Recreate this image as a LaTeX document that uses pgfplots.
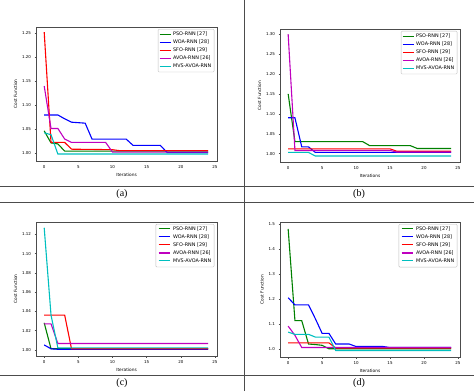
\documentclass[border=0pt]{standalone}
\usepackage{fontspec}
\setmainfont{Liberation Serif}
\newfontfamily\dv{DejaVu Sans}
\usepackage{pgfplots}
\pgfplotsset{compat=1.18}
\definecolor{colG}{HTML}{008000}
\definecolor{colB}{HTML}{0000FF}
\definecolor{colR}{HTML}{FF0000}
\definecolor{colM}{HTML}{BF00BF}
\definecolor{colC}{HTML}{00BFBF}
\newcommand\li[1]{\textcolor{#1}{\rule[1.3pt]{11pt}{1.2pt}}\hspace{3.5pt}}
\pgfplotsset{panel/.style={
  scale only axis,
  xmin=-1.2, xmax=25.3,
  xtick={0,5,...,25},
  tick align=outside, xtick pos=bottom, ytick pos=left,
  major tick length=1.5pt,
  tick style={draw=gray!60!black, line width=0.4pt},
  axis line style={draw=gray!60!black, line width=0.6pt},
  /pgf/number format/assume math mode=true,
  ticklabel style={font=\dv\fontsize{4}{4.5}\selectfont},
  label style={font=\dv\fontsize{4.3}{4.8}\selectfont},
  xlabel={Iterations}, ylabel={Cost Function},
  xlabel style={yshift=2.5pt},
  ylabel style={yshift=-2pt},
  xticklabel style={yshift=0.5pt},
  every axis plot/.append style={line width=1.1pt, mark=none},
  legend cell align=left,
  legend style={at={(0.985,0.985)}, anchor=north east, draw=gray!50, rounded corners=1pt,
     font=\dv\fontsize{4.9}{5.4}\selectfont, inner sep=0.8pt, row sep=-1.2pt},
  legend image code/.code={\draw[#1, line width=1.2pt] (0pt,0pt) -- (11pt,0pt);},
}, ruleleg/.style={legend image code/.code={}}}
\newcommand\legA{\legend{PSO-RNN [27],WOA-RNN [28],SFO-RNN [29],AVOA-RNN [26],MVS-AVOA-RNN}}
\newcommand\legB{\legend{\li{colG}PSO-RNN [27],\li{colB}WOA-RNN [28],\li{colR}SFO-RNN [29],\li{colM}AVOA-RNN [26],\li{colC}MVS-AVOA-RNN}}
\begin{document}
\begin{tikzpicture}[x=1pt,y=1pt]
\useasboundingbox (0,0) rectangle (474,391);
% (a)
\begin{axis}[panel, at={(36pt,230pt)}, anchor=south west, width=181pt, height=134pt,
  ymin=0.9845, ymax=1.2625, ytick={1.00,1.05,...,1.26},
  yticklabel style={/pgf/number format/.cd, fixed, fixed zerofill, precision=2}]
\addplot[draw=colG] coordinates {(0,1.047)(1,1.022)(2,1.020)(3,1.005)(24,1.005)};
\addplot[draw=colB] coordinates {(0,1.080)(2,1.080)(3,1.072)(4,1.065)(6,1.063)(7,1.030)(12,1.030)(13,1.017)(17,1.017)(18,1.002)(24,1.002)};
\addplot[draw=colR] coordinates {(0,1.252)(1,1.023)(3,1.023)(4,1.009)(10,1.008)(11,1.006)(24,1.006)};
\addplot[draw=colM] coordinates {(0,1.140)(1,1.052)(2,1.052)(3,1.030)(4,1.023)(9,1.023)(10,1.003)(24,1.003)};
\addplot[draw=colC] coordinates {(0,1.043)(1,1.039)(2,0.999)(24,0.999)};
\legA
\end{axis}
% (b)
\begin{axis}[panel, at={(280pt,229pt)}, anchor=south west, width=180pt, height=133pt,
  ymin=0.979, ymax=1.313, ytick={1.00,1.05,...,1.31},
  yticklabel style={/pgf/number format/.cd, fixed, fixed zerofill, precision=2}]
\addplot[draw=colG] coordinates {(0,1.150)(1,1.030)(11,1.030)(12,1.020)(18,1.020)(19,1.013)(24,1.013)};
\addplot[draw=colB] coordinates {(0,1.090)(1,1.090)(2,1.017)(3,1.017)(4,1.003)(24,1.003)};
\addplot[draw=colR] coordinates {(0,1.012)(15,1.012)(16,1.006)(24,1.006)};
\addplot[draw=colM] coordinates {(0,1.300)(1,1.008)(15,1.008)(16,1.004)(24,1.004)};
\addplot[draw=colC] coordinates {(0,1.003)(3,1.003)(4,0.994)(24,0.994)};
\legA
\end{axis}
% (c)
\begin{axis}[panel, ruleleg, at={(36pt,35pt)}, anchor=south west, width=181pt, height=134pt,
  ymin=0.9935, ymax=1.133, ytick={1.00,1.02,...,1.13},
  yticklabel style={/pgf/number format/.cd, fixed, fixed zerofill, precision=2}]
\addplot[draw=colG] coordinates {(0,1.028)(1,1.001)(24,1.001)};
\addplot[draw=colB] coordinates {(0,1.005)(1,1.001)(2,1.0005)(24,1.0005)};
\addplot[draw=colR] coordinates {(0,1.036)(3,1.036)(4,1.001)(24,1.001)};
\addplot[draw=colM] coordinates {(0,1.027)(1,1.027)(2,1.0065)(24,1.0065)};
\addplot[draw=colC] coordinates {(0,1.127)(1,1.036)(2,1.002)(24,1.002)};
\legB
\end{axis}
% (d)
\begin{axis}[panel, ruleleg, at={(280pt,34pt)}, anchor=south west, width=180pt, height=135pt,
  ymin=0.968, ymax=1.51, ytick={1.0,1.1,...,1.51},
  yticklabel style={/pgf/number format/.cd, fixed, fixed zerofill, precision=1}]
\addplot[draw=colG] coordinates {(0,1.482)(1,1.114)(2,1.114)(3,1.020)(4,1.018)(5,1.015)(6,1.001)(24,1.001)};
\addplot[draw=colB] coordinates {(0,1.206)(1,1.177)(3,1.177)(4,1.122)(5,1.063)(6,1.063)(7,1.020)(9,1.020)(10,1.010)(14,1.010)(15,1.006)(24,1.006)};
\addplot[draw=colR] coordinates {(0,1.025)(6,1.025)(7,1.004)(24,1.004)};
\addplot[draw=colM] coordinates {(0,1.092)(1,1.055)(2,1.006)(24,1.006)};
\addplot[draw=colC] coordinates {(0,1.068)(1,1.059)(3,1.059)(4,1.048)(6,1.048)(7,0.994)(24,0.994)};
\legB
\end{axis}
% table frame
\draw[draw=gray!60!black, line width=0.7pt] (244,0) -- (244,391);
\draw[draw=gray!60!black, line width=0.7pt] (0,205) -- (474,205);
\draw[draw=gray!60!black, line width=0.7pt] (0,189) -- (474,189);
\draw[draw=gray!60!black, line width=0.7pt] (0,16) -- (474,16);
\node[font=\fontsize{10}{12}\selectfont] at (122,197) {(a)};
\node[font=\fontsize{10}{12}\selectfont] at (359,197) {(b)};
\node[font=\fontsize{10}{12}\selectfont] at (122,7.5) {(c)};
\node[font=\fontsize{10}{12}\selectfont] at (359,7.5) {(d)};
\end{tikzpicture}
\end{document}
